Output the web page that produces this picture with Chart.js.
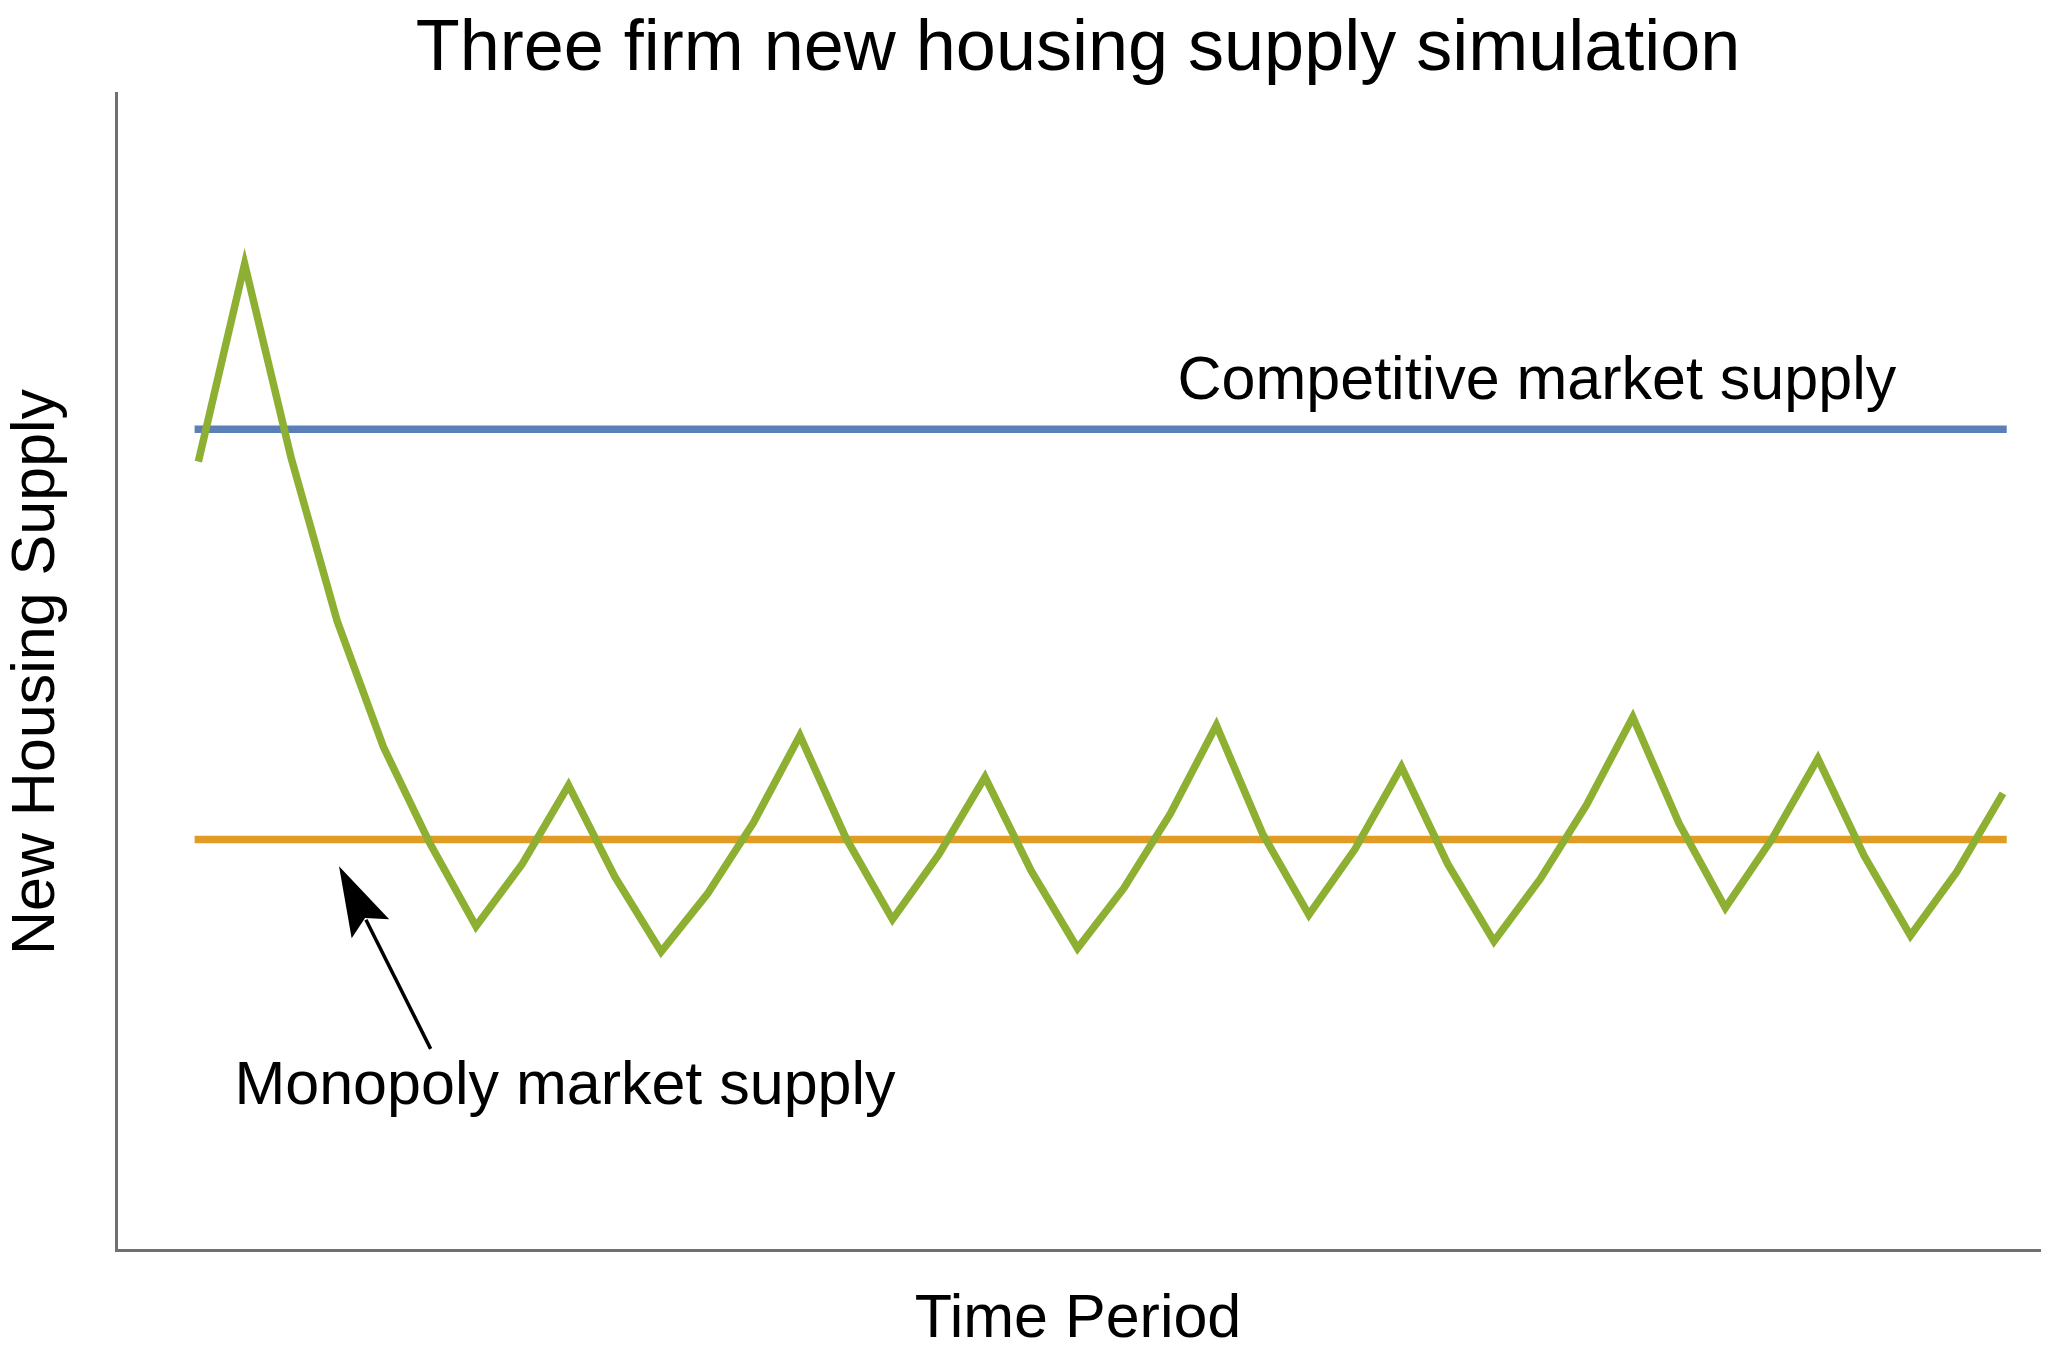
<!DOCTYPE html>
<html>
<head>
<meta charset="utf-8">
<title>Three firm new housing supply simulation</title>
<script src="https://cdn.jsdelivr.net/npm/chart.js@4.4.1/dist/chart.umd.min.js"></script>
<style>
  html, body { margin: 0; padding: 0; background: #fff; }
  canvas { display: block; }
</style>
</head>
<body>
<canvas id="myChart" width="2048" height="1357"></canvas>
<script>
const ctx = document.getElementById('myChart').getContext('2d');

// time periods and simulated supply (arbitrary units)
const periods = [1, 2, 3, 4, 5, 6, 7, 8, 9, 10, 11, 12, 13, 14, 15, 16, 17, 18, 19, 20,
  21, 22, 23, 24, 25, 26, 27, 28, 29, 30, 31, 32, 33, 34, 35, 36, 37, 38, 39, 40];
const threeFirmSupply = [68.2, 85.3, 68.6, 54.4, 43.5, 35.2, 28.0, 33.4, 40.2, 32.3,
  25.8, 30.8, 37.0, 44.5, 35.6, 28.6, 34.2, 40.9, 32.8, 26.1,
  31.3, 37.7, 45.4, 36.0, 29.0, 34.7, 41.8, 33.4, 26.7, 32.1,
  38.5, 46.1, 36.9, 29.6, 35.5, 42.5, 34.1, 27.2, 32.7, 39.5];
const competitiveSupply = periods.map(() => 71.0);
const monopolySupply = periods.map(() => 35.5);

const FONT = '"Liberation Sans", Arial, Helvetica, sans-serif';

const toPoints = values => periods.map((p, i) => ({ x: p, y: values[i] }));

// text labels and arrow drawn on top of the lines
const annotations = {
  id: 'annotations',
  afterDatasetsDraw(chart) {
    const { ctx, scales: { x, y } } = chart;
    ctx.save();
    ctx.fillStyle = '#000';
    ctx.font = `61px ${FONT}`;
    ctx.textBaseline = 'alphabetic';
    ctx.textAlign = 'left';
    ctx.fillText('Competitive market supply', x.getPixelForValue(22.16), y.getPixelForValue(73.6));
    ctx.fillText('Monopoly market supply', x.getPixelForValue(1.78), y.getPixelForValue(12.6));

    // arrow pointing at the monopoly line
    const tipX = x.getPixelForValue(4.04), tipY = y.getPixelForValue(33.2);
    const tailX = x.getPixelForValue(6.02), tailY = y.getPixelForValue(17.4);
    const ang = Math.atan2(tipY - tailY, tipX - tailX);
    const headLen = 70, headHalf = 21;
    const baseX = tipX - headLen * Math.cos(ang), baseY = tipY - headLen * Math.sin(ang);
    ctx.strokeStyle = '#000';
    ctx.lineWidth = 3.5;
    ctx.beginPath();
    ctx.moveTo(tailX, tailY);
    ctx.lineTo(baseX + 10 * Math.cos(ang), baseY + 10 * Math.sin(ang));
    ctx.stroke();
    ctx.beginPath();
    ctx.moveTo(tipX, tipY);
    ctx.lineTo(baseX - headHalf * Math.sin(ang), baseY + headHalf * Math.cos(ang));
    ctx.lineTo(baseX + 12 * Math.cos(ang), baseY + 12 * Math.sin(ang));
    ctx.lineTo(baseX + headHalf * Math.sin(ang), baseY - headHalf * Math.cos(ang));
    ctx.closePath();
    ctx.fill();
    ctx.restore();
  }
};

const chart = new Chart(ctx, {
  type: 'line',
  data: {
    datasets: [
      {
        label: 'Three firm supply',
        data: toPoints(threeFirmSupply),
        borderColor: '#8DB032',
        borderWidth: 7.5,
        borderJoinStyle: 'miter',
        borderCapStyle: 'butt',
        pointRadius: 0,
        tension: 0,
        fill: false
      },
      {
        label: 'Competitive market supply',
        data: toPoints(competitiveSupply),
        borderColor: '#5B80B8',
        borderWidth: 7.5,
        borderCapStyle: 'square',
        pointRadius: 0,
        fill: false
      },
      {
        label: 'Monopoly market supply',
        data: toPoints(monopolySupply),
        borderColor: '#E09C25',
        borderWidth: 7.5,
        borderCapStyle: 'square',
        pointRadius: 0,
        fill: false
      }
    ]
  },
  options: {
    responsive: false,
    devicePixelRatio: 1,
    animation: false,
    layout: { padding: { left: 0, right: 8, top: 0, bottom: 0 } },
    plugins: {
      legend: { display: false },
      tooltip: { enabled: false },
      title: {
        display: true,
        text: 'Three firm new housing supply simulation',
        fullSize: false,
        color: '#000',
        font: { family: FONT, size: 72, weight: 'normal', lineHeight: 1.2 },
        padding: { top: 7, bottom: 0.6 }
      }
    },
    scales: {
      x: {
        type: 'linear',
        min: -0.78,
        max: 40.8,
        grid: { display: false, drawTicks: false },
        border: { display: true, color: '#707070', width: 3 },
        ticks: { display: false },
        title: {
          display: true,
          text: 'Time Period',
          color: '#000',
          font: { family: FONT, size: 61, lineHeight: 1.2 },
          padding: { top: 33.4, bottom: 0.4 }
        }
      },
      y: {
        min: 0,
        max: 100,
        grid: { display: false, drawTicks: false },
        border: { display: true, color: '#707070', width: 3 },
        ticks: { display: false },
        title: {
          display: true,
          text: 'New Housing Supply',
          color: '#000',
          font: { family: FONT, size: 61, lineHeight: 1.2 },
          padding: { top: 1, bottom: 41.8 }
        }
      }
    }
  },
  plugins: [annotations]
});
</script>
</body>
</html>
